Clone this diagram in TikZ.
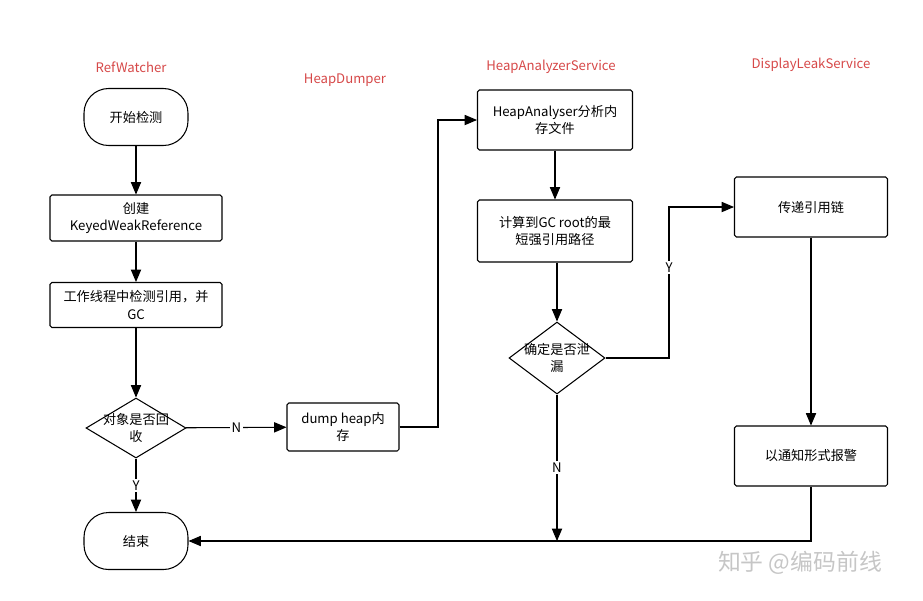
\documentclass[tikz,border=0pt]{standalone}
\usepackage{fontspec}
\setmainfont{Noto Sans CJK SC}
\usetikzlibrary{arrows,positioning}
\usetikzlibrary{shapes}
\definecolor{lanered}{RGB}{214,72,72}
\begin{document}
\begin{tikzpicture}[>=triangle 45,x=0.02cm,y=-0.02cm,
		semithick,font=\fontsize{7.5}{10}\selectfont,
		step node/.style={rectangle,draw,rounded corners=1pt,align=center,inner sep=2pt},
		term node/.style={rectangle,draw,rounded corners=14pt,minimum width=2.08cm,minimum height=1.14cm},
		test node/.style={diamond,draw,aspect=1.4,inner sep=-5pt,align=center},
		lane/.style={text=lanered},
		lbl/.style={fill=white,inner sep=1pt}]
		\useasboundingbox (0,0) rectangle (923,600);
		
		\node[lane] (rw) at (131,67) {RefWatcher};
		\node[lane] (hd) at (345,80) {HeapDumper};
		\node[lane] (has) at (551,67) {HeapAnalyzerService};
		\node[lane] (dls) at (811,65) {DisplayLeakService};
		
		\node[term node] (start) at (136,117) {开始检测};
		\node[step node,minimum width=3.44cm,minimum height=0.92cm] (create) at (136,218) {创建\\KeyedWeakReference};
		\node[step node,minimum width=3.44cm,minimum height=0.9cm] (work) at (136,305) {工作线程中检测引用，并\\GC};
		\node[test node,minimum width=2cm,minimum height=1.2cm] (gced) at (136,428) {对象是否回\\收};
		\node[term node] (end) at (136,541) {结束};
		\node[step node,minimum width=2.24cm,minimum height=0.96cm] (dump) at (343,427) {dump heap内\\存};
		\node[step node,minimum width=3.1cm,minimum height=1.2cm] (analyse) at (555,120) {HeapAnalyser分析内\\存文件};
		\node[step node,minimum width=3.1cm,minimum height=1.24cm] (path) at (555,231) {计算到GC root的最\\短强引用路径};
		\node[test node,minimum width=1.92cm,minimum height=1.44cm] (leak) at (557,358) {确定是否泄\\漏};
		\node[step node,minimum width=3.06cm,minimum height=1.2cm] (chain) at (811,207) {传递引用链};
		\node[step node,minimum width=3.06cm,minimum height=1.2cm] (alarm) at (811,456) {以通知形式报警};
		\coordinate (nend) at (557,541);
		
		\node[text=gray!45,font=\fontsize{13}{15}\selectfont] (mark) at (800,563) {知乎 @编码前线};
		
		\draw[->] (start) -- (create);
		\draw[->] (create) -- (work);
		\draw[->] (work) -- (gced);
		\draw[->] (gced) -- node[lbl] {N} (dump);
		\draw[->] (gced) -- node[lbl] {Y} (end);
		\draw[->] (dump.east) -- (438,427) |- (analyse.west);
		\draw[->] (analyse) -- (path);
		\draw[->] (path.south -| leak.north) -- (leak.north);
		\draw[->] (leak.east) -- (669,358) |- node[lbl,pos=0.3] {Y} (chain.west);
		\draw[->] (leak.south) -- node[lbl,pos=0.5] {N} (nend);
		\draw[->] (chain) -- (alarm);
		\draw[->] (alarm.south) |- (end.east);
\end{tikzpicture}
\end{document}
